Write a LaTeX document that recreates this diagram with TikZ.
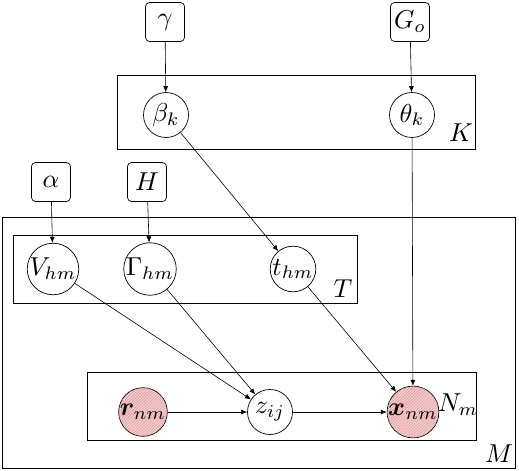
\documentclass[tikz,border=0pt]{standalone}
\usepackage{amsmath}
\usepackage{bm}
\usepackage{graphicx}
\usetikzlibrary{arrows.meta,patterns}
\definecolor{obsfill}{rgb}{0.96,0.80,0.80}
\definecolor{obshatch}{rgb}{0.86,0.58,0.58}
\newcommand{\mylab}[1]{\scalebox{2.6}{$#1$}}
\begin{document}
\begin{tikzpicture}[x=1bp,y=-1bp,
  var/.style={circle,draw,line width=0.7bp,minimum size=45bp,inner sep=0pt},
  obs/.style={var,fill=obsfill,postaction={pattern=north east lines,pattern color=obshatch}},
  hyper/.style={rectangle,rounded corners=4bp,draw,line width=0.7bp,minimum size=39bp,inner sep=0pt},
  plate/.style={draw,line width=0.7bp},
  edge/.style={line width=0.6bp,-{Latex[length=6bp,width=5bp]}},
  lbl/.style={inner sep=0pt}]
\useasboundingbox (0,0) rectangle (519,471);
% plates
\draw[plate] (117,75) rectangle (475,149);
\draw[plate] (2,217) rectangle (515,468);
\draw[plate] (13,235) rectangle (357,303);
\draw[plate] (87,372) rectangle (476,440);
\node[lbl] (lK) at (461,133) {\mylab{K}};
\node[lbl] (lT) at (343,289) {\mylab{T}};
\node[lbl] (lN) at (458,405) {\mylab{N_{m}}};
\node[lbl] (lM) at (499,454) {\mylab{M}};
% hyperparameters
\node[hyper] (gamma) at (165,22) {\mylab{\gamma}};
\node[hyper] (G) at (410,22) {\mylab{G_{o}}};
\node[hyper] (alpha) at (51,182) {\mylab{\alpha}};
\node[hyper] (H) at (147,182) {\mylab{H}};
% variables
\node[var] (beta) at (166,115) {\mylab{\beta_{k}}};
\node[var] (theta) at (412,115) {\mylab{\theta_{k}}};
\node[var] (V) at (53,269) {\mylab{V_{hm}}};
\node[var] (Gam) at (150,269) {\mylab{\Gamma_{hm}}};
\node[var] (t) at (293,269) {\mylab{t_{hm}}};
\node[obs] (r) at (143,412) {\mylab{\bm{r}_{nm}}};
\node[var] (z) at (270,412) {\mylab{z_{ij}}};
\node[obs] (x) at (413,412) {\mylab{\bm{x}_{nm}}};
% edges
\draw[edge] (gamma) -- (beta);
\draw[edge] (G) -- (theta);
\draw[edge] (alpha) -- (V);
\draw[edge] (H) -- (Gam);
\draw[edge] (beta) -- (t);
\draw[edge] (theta) -- (x);
\draw[edge] (V) -- (z);
\draw[edge] (Gam) -- (z);
\draw[edge] (t) -- (x);
\draw[edge] (r) -- (z);
\draw[edge] (z) -- (x);
\end{tikzpicture}
\end{document}
